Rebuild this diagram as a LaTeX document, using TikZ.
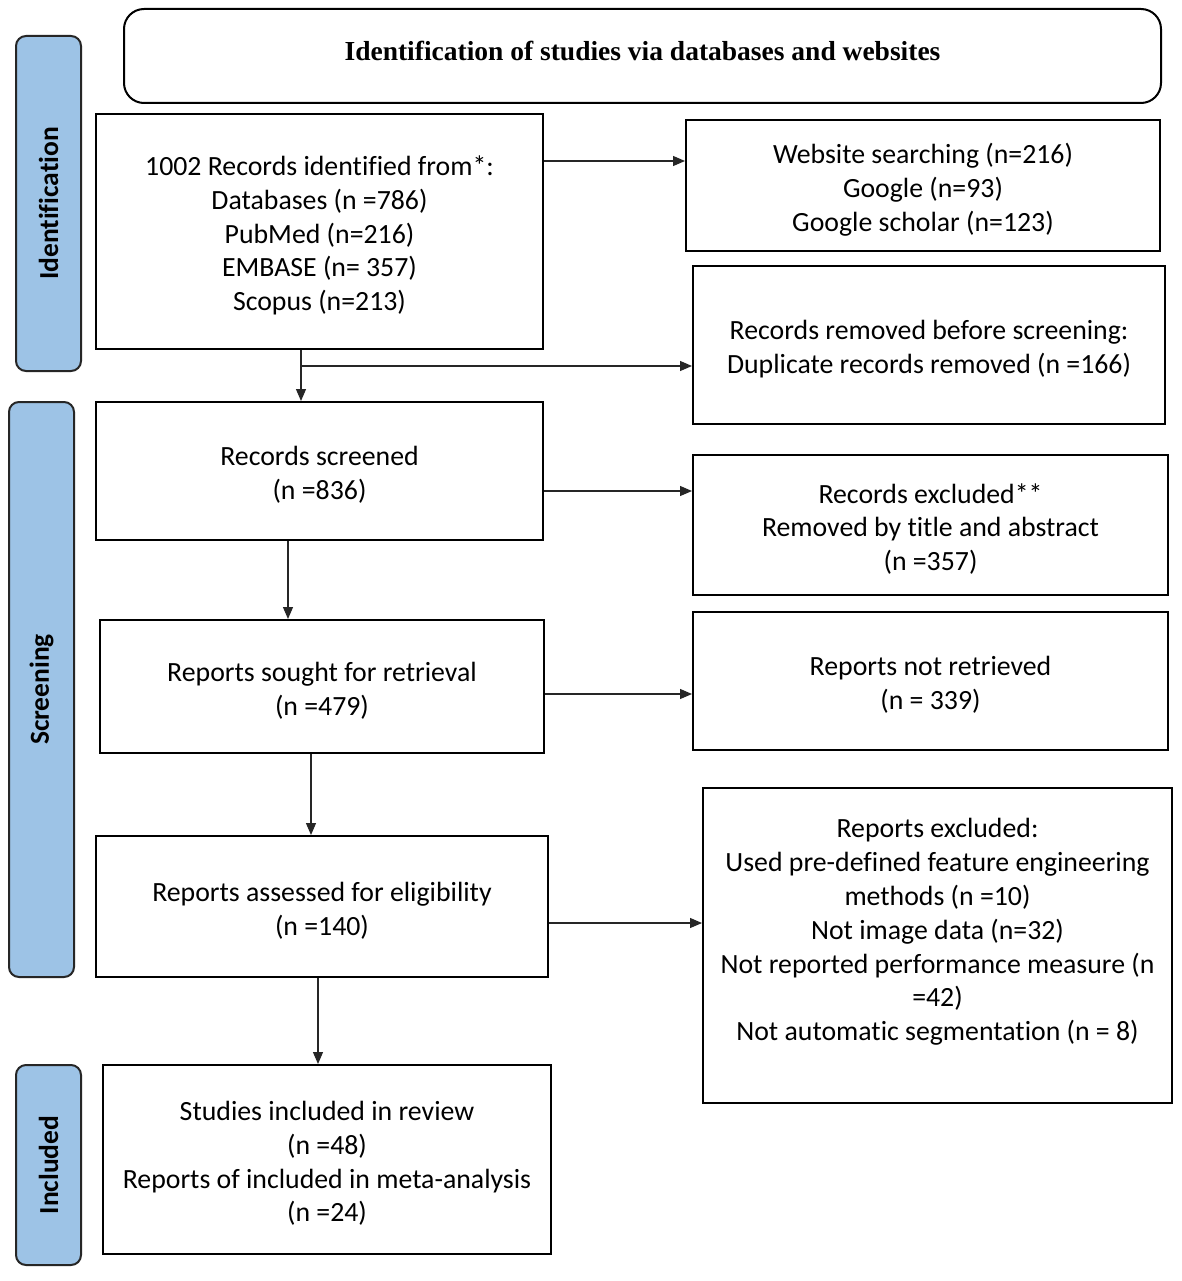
\documentclass[tikz,border=0pt]{standalone}
\usepackage{fontspec}
\setmainfont{Carlito}[RawFeature=-liga]
\newfontfamily\titlefont{Liberation Serif}
\usetikzlibrary{arrows.meta,calc}
\definecolor{sideblue}{HTML}{9DC3E6}
\newcommand{\mybox}[6]{%
  \node[box,minimum width=#4pt,minimum height=#5pt] (#1) at (#2,#3) {};
  \node[boxtext] (#1t) at ($(#1.center)+(0,4)$) {#6};}
\begin{document}
\begin{tikzpicture}[x=1pt,y=-1pt,
  box/.style={draw=black,line width=2pt,fill=white,inner sep=0pt},
  boxtext/.style={inner sep=0pt,align=center,font=\fontsize{27.8}{33.8}\selectfont},
  side/.style={draw=black!85,line width=2pt,fill=sideblue,rounded corners=10pt,inner sep=0pt},
  sidetext/.style={rotate=90,font=\fontsize{27.5}{30}\selectfont\bfseries},
  arr/.style={line width=1.2pt,draw=black!85,-{Triangle[length=12pt,width=10pt]}}]
\useasboundingbox (0,0) rectangle (1181,1281);
\fill[white] (0,0) rectangle (1181,1281);
% title
\node[draw=black,line width=2pt,rounded corners=20pt,minimum width=1037pt,minimum height=94pt,inner sep=0pt] (title) at (642.5,56) {};
\node[font=\titlefont\fontsize{27.5}{30}\selectfont\bfseries,inner sep=0pt] (titletxt) at (642.5,51) {Identification of studies via databases and websites};
% side labels
\node[side,minimum width=65pt,minimum height=335pt] (sid) at (48.5,203.5) {};
\node[sidetext] (sidt) at (sid.center) {Identification};
\node[side,minimum width=65pt,minimum height=575pt] (ssc) at (41.5,689.5) {};
\node[sidetext] (ssct) at (ssc.center) {Screening};
\node[side,minimum width=65pt,minimum height=200pt] (sin) at (48.5,1165) {};
\node[sidetext] (sint) at (sin.center) {Included};
% boxes
\mybox{a}{319.5}{231.5}{447}{235}{1002 Records identified from*:\\Databases (n =786)\\PubMed (n=216)\\EMBASE (n= 357)\\Scopus (n=213)}
\mybox{w}{923}{185.5}{474}{131}{Website searching (n=216)\\Google (n=93)\\Google scholar (n=123)}
\mybox{r}{929}{345}{472}{158}{Records removed before screening:\\Duplicate records removed (n =166)}
\mybox{s}{319.5}{471}{447}{138}{Records screened\\(n =836)}
\mybox{e}{930.5}{525}{475}{140}{Records excluded**\\Removed by title and abstract\\(n =357)}
\mybox{rs}{322}{686.5}{444}{133}{Reports sought for retrieval\\(n =479)}
\mybox{nr}{930.5}{681}{475}{138}{Reports not retrieved\\(n = 339)}
\mybox{ra}{322}{906.5}{452}{141}{Reports assessed for eligibility\\(n =140)}
\node[box,minimum width=469pt,minimum height=315pt] (re) at (937.5,945.5) {};
\node[boxtext] (ret) at (937.5,932) {Reports excluded:\\Used pre-defined feature engineering\\methods (n =10)\\Not image data (n=32)\\Not reported performance measure (n\\=42)\\Not automatic segmentation (n = 8)};
\mybox{si}{327}{1159.5}{448}{189}{Studies included in review\\(n =48)\\Reports of included in meta-analysis\\(n =24)}
% connectors
\draw[arr] (a.east |- 0,161) -- (w.west |- 0,161);
\draw[arr] (a.south -| 301,0) -- (s.north -| 301,0);
\draw[arr] (301,366) -- (r.west |- 0,366);
\draw[arr] (s.east |- 0,491) -- (e.west |- 0,491);
\draw[arr] (s.south -| 288,0) -- (rs.north -| 288,0);
\draw[arr] (rs.east |- 0,694) -- (nr.west |- 0,694);
\draw[arr] (rs.south -| 311,0) -- (ra.north -| 311,0);
\draw[arr] (ra.east |- 0,923) -- (re.west |- 0,923);
\draw[arr] (ra.south -| 318,0) -- (si.north -| 318,0);
\end{tikzpicture}
\end{document}
